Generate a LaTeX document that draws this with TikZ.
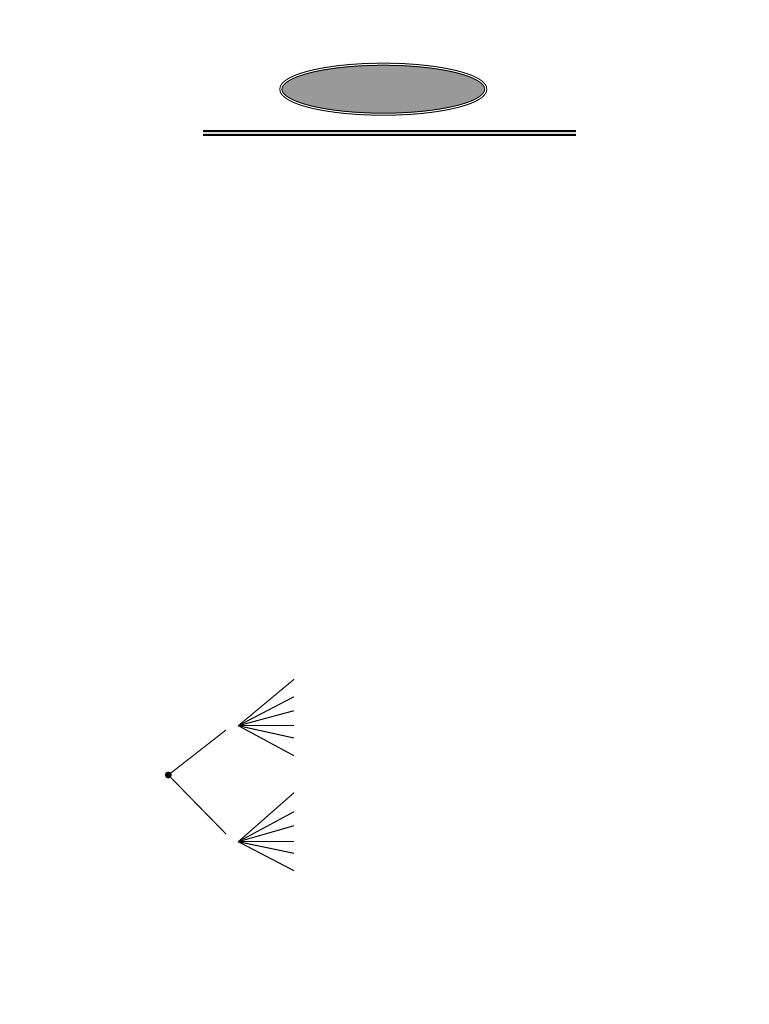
\documentclass[tikz,border=0pt]{standalone}
\usetikzlibrary{shapes.geometric}
\begin{document}
\begin{tikzpicture}[x=0.75pt,y=-0.75pt,line width=0.75pt]
\useasboundingbox (0,0) rectangle (768,1024);
\def\titleoval{(383.3,89.2) ellipse [x radius=102.5, y radius=25]}

% title oval and rule
\fill[black!40] \titleoval;
\draw[double, double distance=0.75pt] \titleoval;
\coordinate (rulel) at (203.3,133.3);
\coordinate (ruler) at (576,133.3);
\draw[double=black!15, line width=1.5pt, double distance=1.5pt] (rulel) -- (ruler);

% tree
\coordinate (root) at (168.3,775);
\coordinate (upend) at (226,730);
\coordinate (lowend) at (226,834);
\coordinate (upfan) at (238.3,725.7);
\coordinate (lowfan) at (238.3,841.7);
\fill (root) circle (3.5);
\draw (root) -- (upend);
\draw (root) -- (lowend);
\foreach \y [count=\i] in {679.3,696.7,710.7,725.7,738,755.7}{
  \coordinate (upleaf\i) at (294,\y);
  \draw (upfan) -- (upleaf\i);
}
\foreach \y [count=\i] in {792.7,811.7,825.7,841.7,853.3,870.7}{
  \coordinate (lowleaf\i) at (294,\y);
  \draw (lowfan) -- (lowleaf\i);
}
\end{tikzpicture}
\end{document}
